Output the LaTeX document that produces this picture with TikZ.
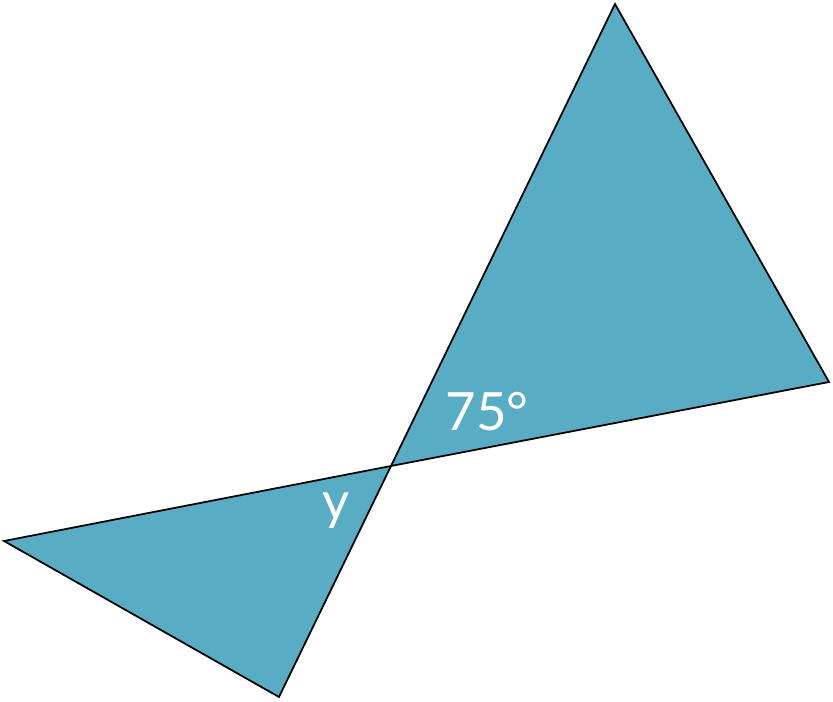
\documentclass[tikz,border=0pt]{standalone}
\usepackage{fontspec}
\setmainfont{Lato}
\usepackage{tikz}
\definecolor{tri}{RGB}{88,173,197}

\begin{document}
\begin{tikzpicture}[
  x=0.02cm, y=-0.02cm,
  face/.style={fill=tri, draw=black, line width=1pt, line join=miter},
  lbl/.style={text=white, font=\fontsize{30}{30}\selectfont, inner sep=0pt}
]
  \useasboundingbox (0,0) rectangle (833,702);

  \coordinate (top) at (615,4);
  \coordinate (right) at (829,382);
  \coordinate (O) at (391,466);
  \coordinate (left) at (4,541);
  \coordinate (bottom) at (279,697);

  \draw[face] (O) -- (top) -- (right) -- cycle;
  \draw[face] (O) -- (left) -- (bottom) -- cycle;

  \node[lbl] (ang) at (487,412) {75°};
  \node[lbl] (y) at (336,511) {y};
\end{tikzpicture}
\end{document}
